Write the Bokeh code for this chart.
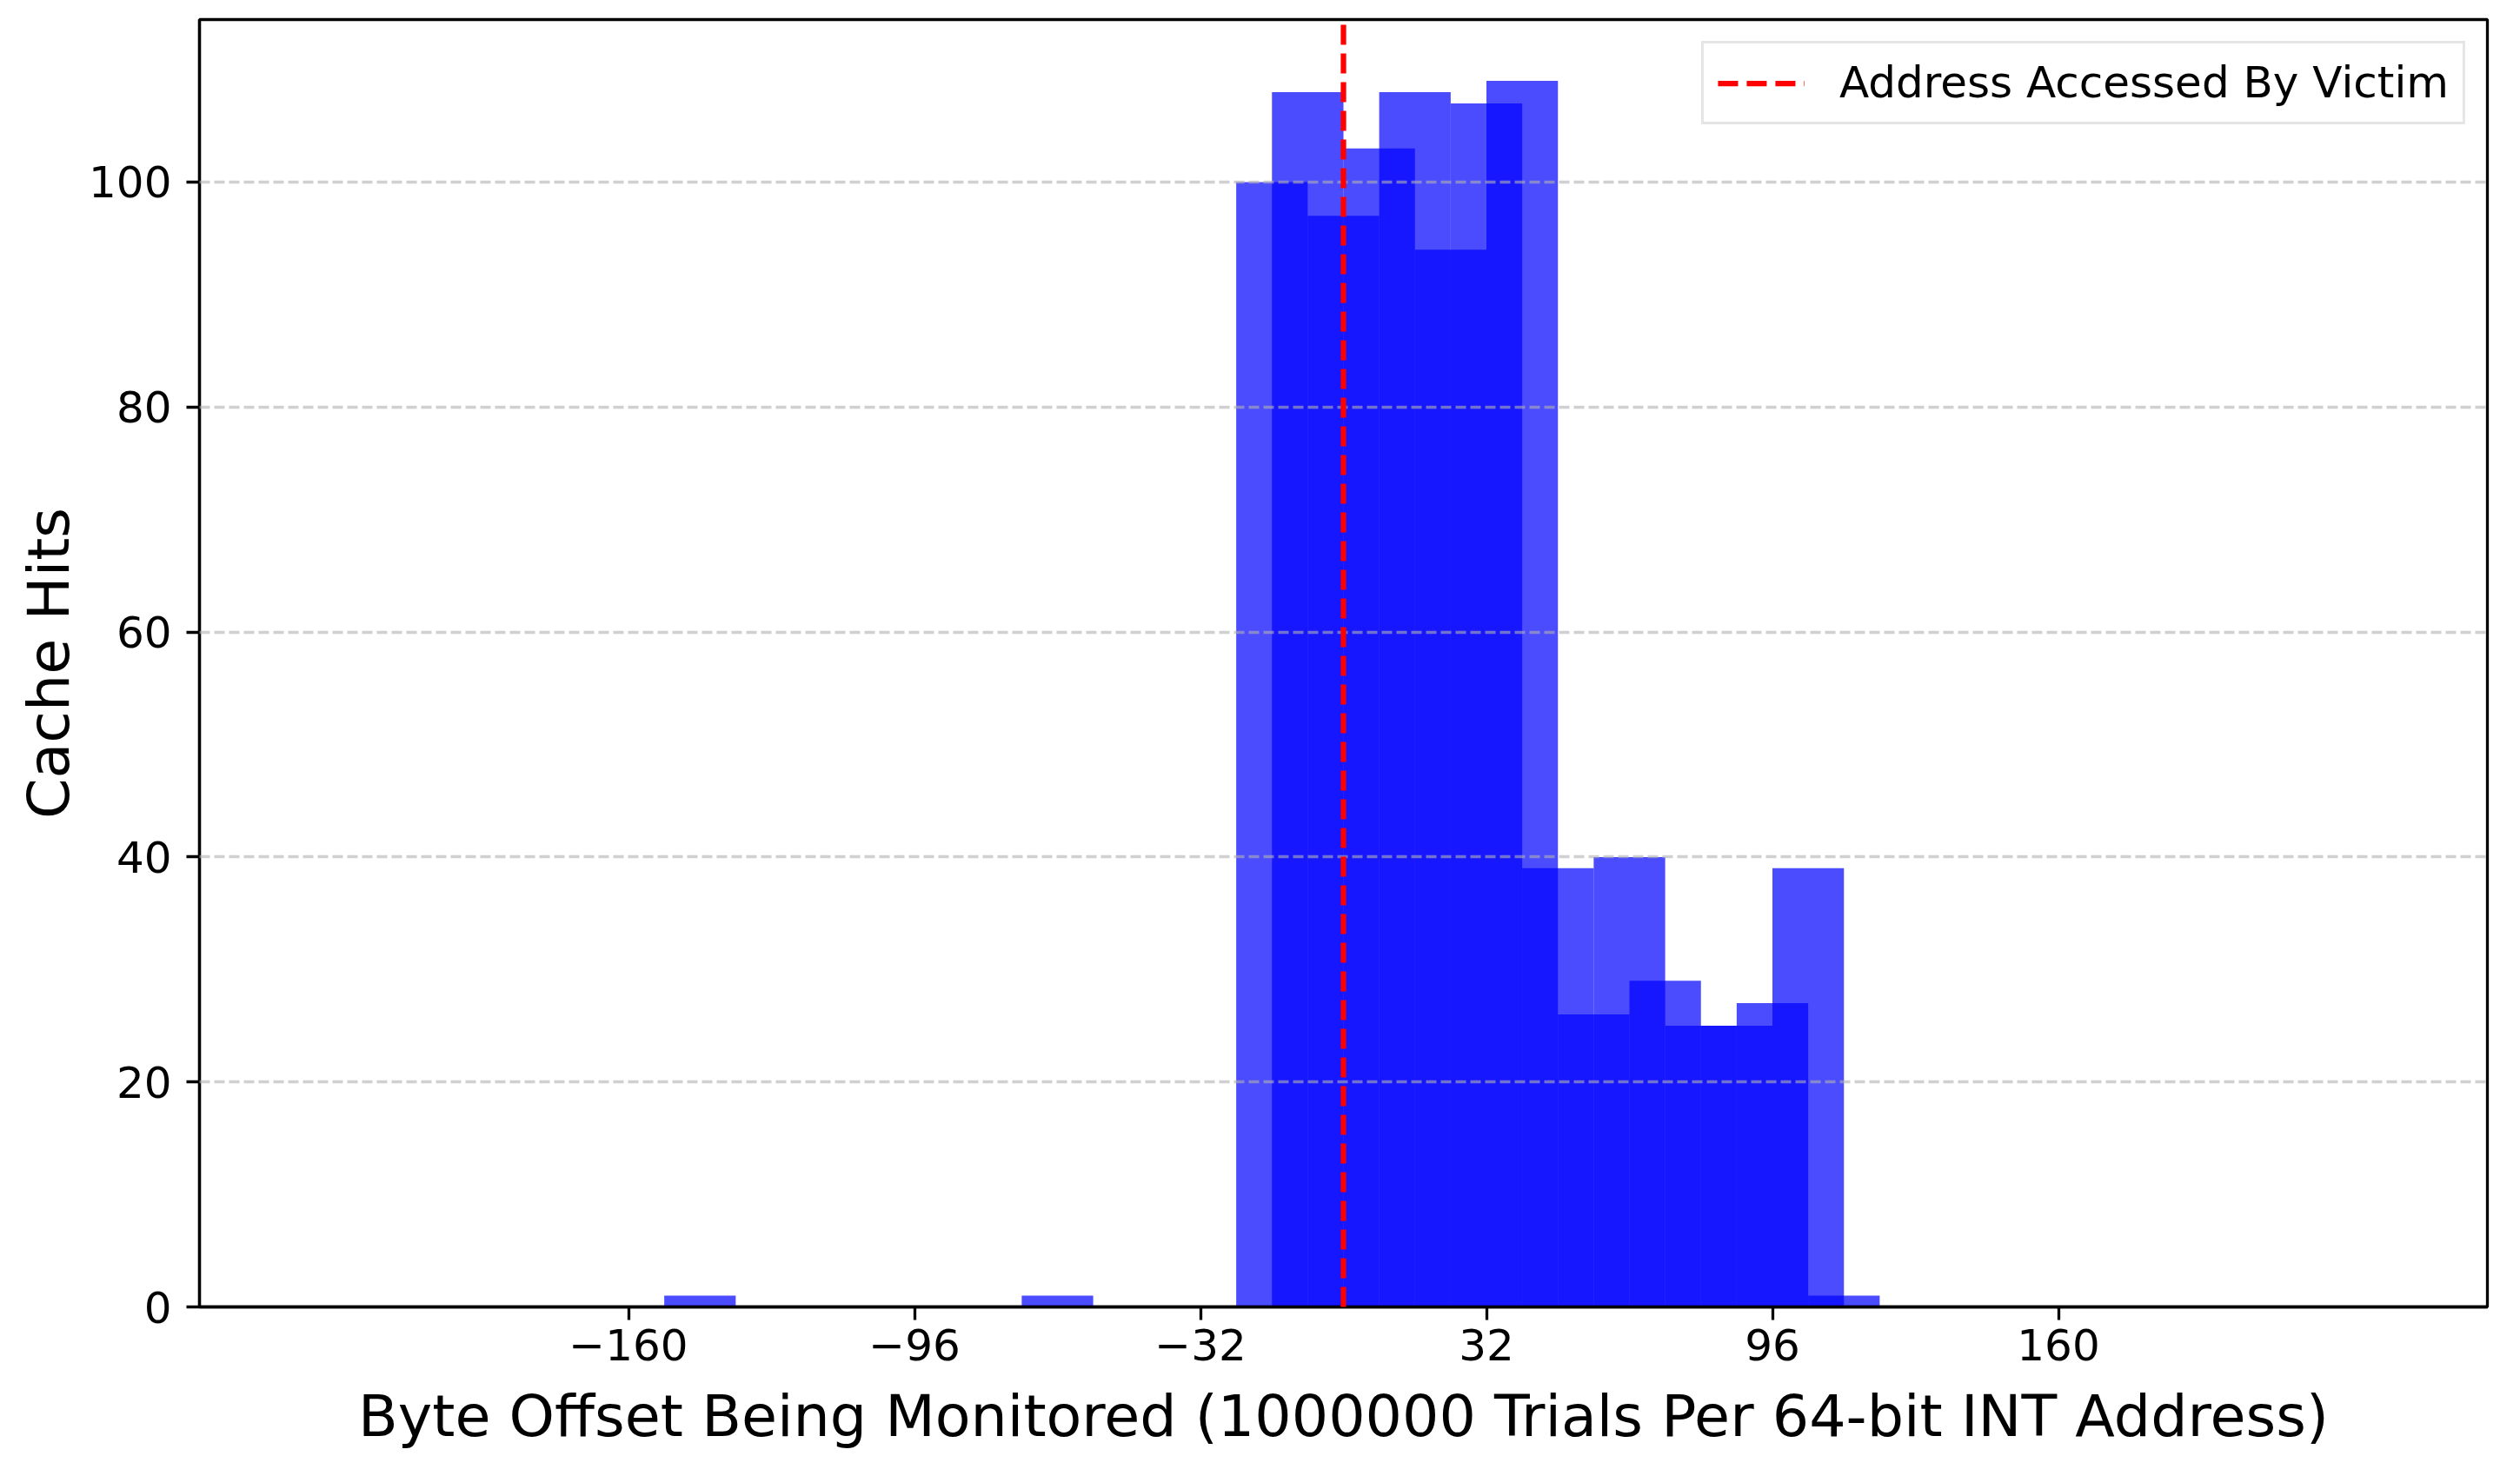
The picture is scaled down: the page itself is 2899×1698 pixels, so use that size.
from bokeh.plotting import figure
from bokeh.models import Range1d, FixedTicker, CustomJSTickFormatter
from bokeh.embed import file_html
from bokeh.resources import INLINE

# ---- data ----
byte_offsets = [-144, -64, -16, -8, 0, 8, 16, 24, 32, 40, 48, 56, 64, 72, 80, 88, 96, 104, 112]
cache_hits = [1, 1, 100, 108, 97, 103, 108, 94, 107, 109, 39, 26, 40, 29, 25, 25, 27, 39, 1]
bar_width = 16
victim_offset = [0]
x_ticks = [-160, -96, -32, 32, 96, 160]
y_ticks = [0, 20, 40, 60, 80, 100]
x_limits = (-256, 256)
y_top = max(cache_hits) * 1.05

FONT = "DejaVu Sans"

p = figure(width=2880, height=1682, output_backend="svg", toolbar_location=None,
           x_range=Range1d(*x_limits), y_range=Range1d(0, y_top),
           min_border_left=229, min_border_right=19, min_border_top=22, min_border_bottom=179)

p.background_fill_color = "white"
p.border_fill_color = "white"
p.outline_line_color = "black"
p.outline_line_width = 3.3

# bars (overlapping, semi-transparent)
p.vbar(x=byte_offsets, width=bar_width, top=cache_hits, bottom=0,
       fill_color="blue", fill_alpha=0.7, line_color=None)

# victim address line
seg = p.segment(x0=victim_offset, y0=[0], x1=victim_offset, y1=[y_top],
                line_color="red", line_width=6.25, line_dash="23 10",
                legend_label="Address Accessed By Victim")
seg.level = "annotation"

# grid
p.xgrid.visible = False
p.ygrid.ticker = FixedTicker(ticks=y_ticks)
p.ygrid.grid_line_color = "#b0b0b0"
p.ygrid.grid_line_alpha = 0.6
p.ygrid.grid_line_width = 3.3
p.ygrid.grid_line_dash = "12 5"
p.ygrid.level = "guide"

fmt = CustomJSTickFormatter(code="return tick < 0 ? '\\u2212' + Math.abs(tick) : String(tick);")

for ax, ticks in ((p.xaxis[0], x_ticks), (p.yaxis[0], y_ticks)):
    ax.ticker = FixedTicker(ticks=ticks)
    ax.formatter = fmt
    ax.axis_line_color = "black"
    ax.axis_line_width = 3.3
    ax.major_tick_line_color = "black"
    ax.major_tick_line_width = 3.3
    ax.major_tick_out = 15
    ax.major_tick_in = 0
    ax.minor_tick_line_color = None
    ax.major_label_text_font = FONT
    ax.major_label_text_font_size = "50px"
    ax.major_label_text_color = "black"
    ax.axis_label_text_font = FONT
    ax.axis_label_text_font_size = "66.7px"
    ax.axis_label_text_font_style = "normal"
    ax.axis_label_text_color = "black"

p.xaxis[0].major_label_standoff = 10
p.yaxis[0].major_label_standoff = 17
p.xaxis[0].axis_label = "Byte Offset Being Monitored (1000000 Trials Per 64-bit INT Address)"
p.yaxis[0].axis_label = "Cache Hits"
p.xaxis[0].axis_label_standoff = 22
p.yaxis[0].axis_label_standoff = 4

leg = p.legend[0]
leg.location = "top_right"
leg.margin = 25
leg.padding = 16
leg.spacing = 0
leg.glyph_width = 100
leg.glyph_height = 55
leg.label_standoff = 40
leg.label_text_font = FONT
leg.label_text_font_size = "50px"
leg.label_text_color = "black"
leg.border_line_color = "#cccccc"
leg.border_line_width = 3.3
leg.background_fill_color = "white"
leg.background_fill_alpha = 0.8

open("out.html", "w").write(file_html(p, INLINE))
